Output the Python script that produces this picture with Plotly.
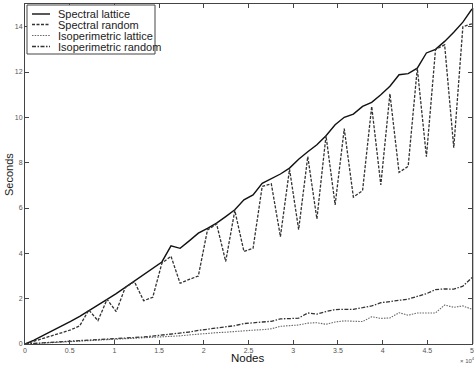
import plotly.graph_objects as go

# Nodes (x 10^4), 50 evenly spaced samples between 0 and 5
nodes = [0.000, 0.102, 0.204, 0.306, 0.408, 0.510, 0.612, 0.714, 0.816, 0.918,
         1.020, 1.122, 1.224, 1.327, 1.429, 1.531, 1.633, 1.735, 1.837, 1.939,
         2.041, 2.143, 2.245, 2.347, 2.449, 2.551, 2.653, 2.755, 2.857, 2.959,
         3.061, 3.163, 3.265, 3.367, 3.469, 3.571, 3.673, 3.776, 3.878, 3.980,
         4.082, 4.184, 4.286, 4.388, 4.490, 4.592, 4.694, 4.796, 4.898, 5.000]

spectral_lattice = [0, 0.17, 0.38, 0.58, 0.80, 1.00, 1.22, 1.48, 1.72, 1.97,
                    2.22, 2.50, 2.75, 3.05, 3.32, 3.62, 4.33, 4.22, 4.55, 4.89,
                    5.10, 5.33, 5.62, 5.92, 6.36, 6.58, 7.09, 7.30, 7.50, 7.76,
                    8.15, 8.48, 8.79, 9.19, 9.67, 10.00, 10.14, 10.48, 10.66, 11.00,
                    11.37, 11.88, 11.93, 12.17, 12.84, 13.00, 13.35, 13.75, 14.20, 14.78]

spectral_random = [0, 0.12, 0.24, 0.36, 0.48, 0.62, 0.80, 1.50, 1.03, 1.97,
                   1.43, 2.50, 2.75, 1.91, 2.06, 3.56, 3.87, 2.68, 2.85, 3.00,
                   5.03, 5.30, 3.64, 5.89, 4.08, 4.22, 6.95, 7.07, 4.74, 7.71,
                   5.05, 8.27, 5.52, 9.19, 6.14, 9.50, 6.48, 6.77, 10.48, 7.02,
                   11.04, 7.57, 7.84, 12.17, 8.26, 12.99, 13.20, 8.66, 14.00, 14.13]

iso_lattice = [0, 0.02, 0.04, 0.06, 0.08, 0.10, 0.11, 0.13, 0.15, 0.17,
               0.19, 0.21, 0.24, 0.25, 0.28, 0.30, 0.33, 0.36, 0.40, 0.44,
               0.47, 0.50, 0.52, 0.56, 0.59, 0.61, 0.63, 0.67, 0.78, 0.80,
               0.84, 0.92, 0.94, 0.87, 0.97, 1.02, 1.02, 0.99, 1.20, 1.13,
               1.15, 1.38, 1.27, 1.37, 1.37, 1.37, 1.72, 1.62, 1.68, 1.53]

iso_random = [0, 0.03, 0.06, 0.08, 0.11, 0.14, 0.15, 0.17, 0.19, 0.20,
              0.22, 0.26, 0.28, 0.31, 0.35, 0.39, 0.42, 0.47, 0.53, 0.60,
              0.65, 0.70, 0.76, 0.81, 0.90, 0.95, 0.97, 1.00, 1.11, 1.12,
              1.14, 1.37, 1.32, 1.43, 1.52, 1.53, 1.53, 1.60, 1.68, 1.82,
              1.88, 1.93, 1.98, 2.10, 2.22, 2.40, 2.43, 2.42, 2.55, 2.93]

series_names = ["Spectral lattice", "Spectral random", "Isoperimetric lattice", "Isoperimetric random"]

x_ticks = [0, 0.5, 1, 1.5, 2, 2.5, 3, 3.5, 4, 4.5, 5]
x_tick_labels = ["0", "0.5", "1", "1.5", "2", "2.5", "3", "3.5", "4", "4.5", "5"]
y_ticks = [0, 2, 4, 6, 8, 10, 12, 14]
y_tick_labels = ["0", "2", "4", "6", "8", "10", "12", "14"]

FONT = "Liberation Sans, Arial, sans-serif"
W, H = 474, 365
ML, MR, MT, MB = 25, 2, 4, 21
PW, PH = W - ML - MR, H - MT - MB


def px_x(px):
    return (px - ML) / PW


def px_y(py):
    return (H - MB - py) / PH


styles = [
    dict(color="#111111", width=1.4, dash="solid"),
    dict(color="#333333", width=1.3, dash="3px,1.5px"),
    dict(color="#666666", width=1.1, dash="1.5px,1.2px"),
    dict(color="#333333", width=1.3, dash="4px,1.5px,1.5px,1.5px"),
]
series = [spectral_lattice, spectral_random, iso_lattice, iso_random]

fig = go.Figure()
for name, ys, st in zip(series_names, series, styles):
    fig.add_trace(go.Scatter(x=nodes, y=ys, mode="lines", name=name, line=st,
                             showlegend=False, hoverinfo="skip"))

axis_common = dict(showgrid=False, zeroline=False, showline=True, linecolor="#444444",
                   linewidth=1, mirror="ticks", ticks="inside", ticklen=4,
                   tickcolor="#444444", automargin=False, ticklabeloverflow="allow",
                   tickfont=dict(family=FONT, size=7, color="#555555"))

fig.update_xaxes(range=[0, 5], tickvals=x_ticks, ticktext=x_tick_labels, ticklabelstandoff=0,
                 **axis_common)
fig.update_yaxes(range=[0, 15], tickvals=y_ticks, ticktext=y_tick_labels, **axis_common)

# axis titles
fig.add_annotation(x=px_x(247), y=px_y(365), xref="paper", yref="paper", showarrow=False,
                   text="Nodes", font=dict(family=FONT, size=11.5, color="#111111"),
                   xanchor="center", yanchor="bottom", borderpad=0)
fig.add_annotation(x=px_x(9), y=px_y(175), xref="paper", yref="paper", showarrow=False,
                   text="Seconds", textangle=-90, font=dict(family=FONT, size=11, color="#222222"),
                   xanchor="center", yanchor="middle")
fig.add_annotation(x=px_x(467), y=px_y(360), xref="paper", yref="paper", showarrow=False,
                   text="× 10<sup>4</sup>", font=dict(family=FONT, size=6, color="#555555"),
                   xanchor="center", yanchor="middle")

# custom legend (box, line samples, labels)
fig.add_shape(type="rect", xref="paper", yref="paper",
              x0=px_x(27), x1=px_x(155), y0=px_y(54), y1=px_y(5),
              line=dict(color="#444444", width=1), fillcolor="white", layer="above")
legend_rows = [14, 24.5, 35.5, 46.5]
for name, st, ry in zip(series_names, styles, legend_rows):
    fig.add_shape(type="line", xref="paper", yref="paper",
                  x0=px_x(32), x1=px_x(50), y0=px_y(ry), y1=px_y(ry),
                  line=st, layer="above")
    fig.add_annotation(x=px_x(56), y=px_y(ry), xref="paper", yref="paper", showarrow=False,
                       text=name, xanchor="left", yanchor="middle",
                       font=dict(family=FONT, size=11, color="#222222"))

# grey strip at the right edge of the scanned figure
fig.add_shape(type="rect", xref="paper", yref="paper",
              x0=1.0, x1=px_x(474), y0=0, y1=px_y(8),
              line=dict(width=0), fillcolor="#c4c4c4", layer="below")

fig.update_layout(
    width=W, height=H,
    margin=dict(l=ML, r=MR, t=MT, b=MB),
    paper_bgcolor="white", plot_bgcolor="white",
    showlegend=False, hovermode=False,
)

fig.write_html("out.html", config={"displayModeBar": False},
               post_script="document.body.style.margin='0';")
